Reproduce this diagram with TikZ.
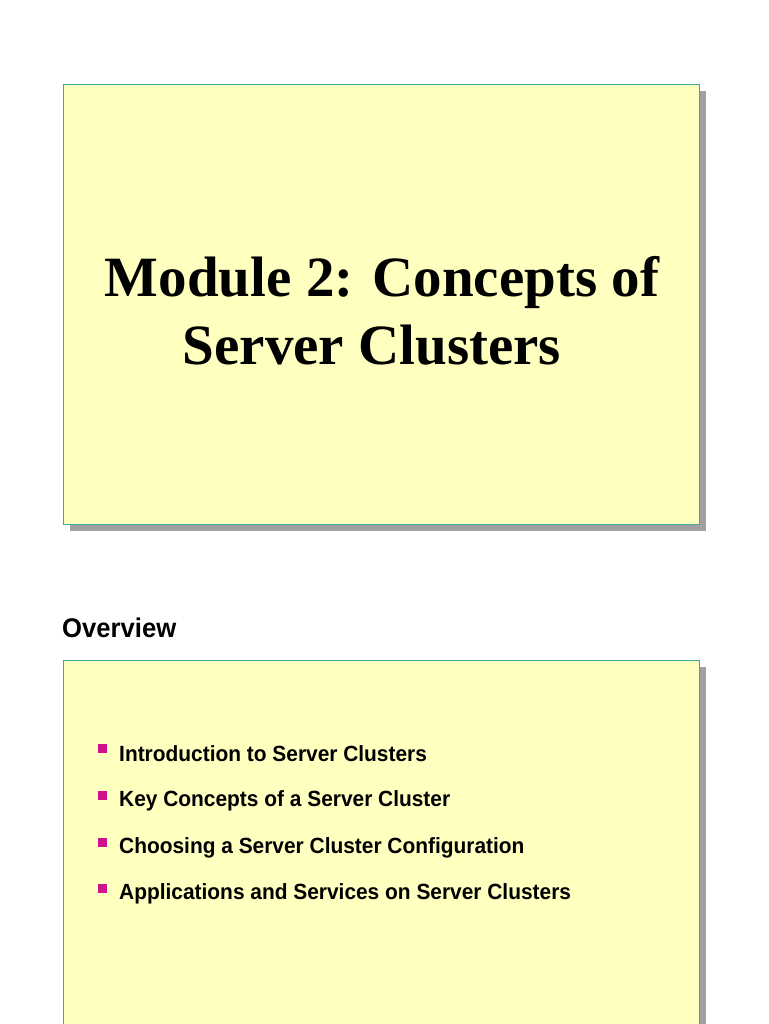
\documentclass[tikz,border=0pt]{standalone}
\usepackage{fontspec}
\setmainfont{Liberation Serif}
\newfontfamily\narrowsans[FakeStretch=0.95]{Liberation Sans}
\definecolor{boxfill}{HTML}{FFFFC0}
\definecolor{boxedge}{HTML}{3FA79A}
\definecolor{shadowc}{HTML}{A0A0A0}
\definecolor{bulletc}{HTML}{D0108C}
\begin{document}
\begin{tikzpicture}[x=1pt,y=-1pt,
  slide/.style={fill=boxfill,draw=boxedge,line width=0.8pt},
  ttl/.style={inner sep=0pt,font=\bfseries\fontsize{57}{63}\selectfont},
  item/.style={anchor=west,inner sep=0pt,font=\narrowsans\bfseries\fontsize{22}{26}\selectfont},
  bul/.style={fill=bulletc,draw=none,minimum size=9pt,inner sep=0pt}]
\useasboundingbox (0,0) rectangle (768,1024);
\fill[white] (0,0) rectangle (768,1024);
\fill[shadowc] (70,91) rectangle (706,531);
\draw[slide] (63,84) rectangle (699,524);
\node[ttl] (title1) at (382,282) {Module 2: Concepts of};
\node[ttl] (title2) at (372,345) {Server Clusters};
\node[anchor=west,inner sep=0pt,font=\narrowsans\bfseries\fontsize{27}{30}\selectfont] (ov) at (62,628) {Overview};
\fill[shadowc] (70,667) rectangle (706,1030);
\draw[slide] (63,660) rectangle (699,1040);
\foreach \y/\t [count=\i] in {754/Introduction to Server Clusters,801/Key Concepts of a Server Cluster,848/Choosing a Server Cluster Configuration,894/Applications and Services on Server Clusters}{
  \node[bul] (b\i) at (102,\y-6) {};
  \node[item] (t\i) at (119,\y) {\t};
}
\end{tikzpicture}
\end{document}
